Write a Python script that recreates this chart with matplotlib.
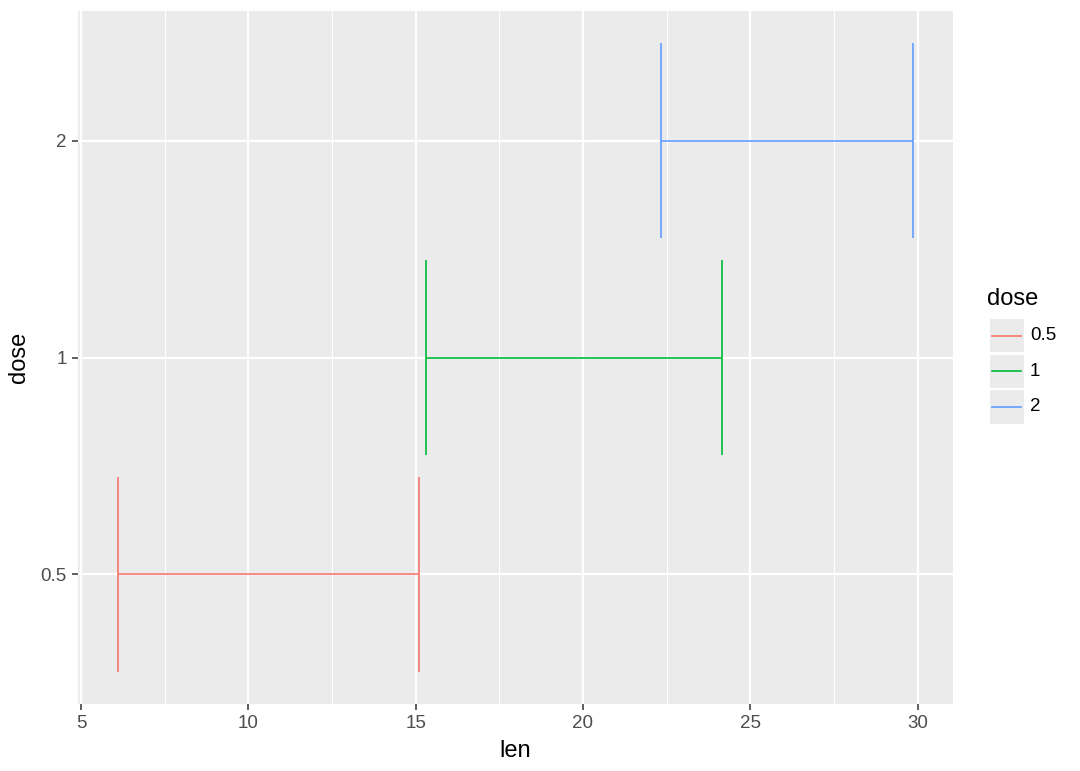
import matplotlib.pyplot as plt
from matplotlib.lines import Line2D
from matplotlib.patches import Rectangle

plt.rcParams['font.family'] = ['Liberation Sans', 'DejaVu Sans']

# ToothGrowth: mean +/- sd of len per dose
doses = ['0.5', '1', '2']
xmin = [6.10, 15.32, 22.33]
xmax = [15.11, 24.15, 29.87]
colors = ['#F8766D', '#00BA38', '#619CFF']

W, H = 1080, 771
fig = plt.figure(figsize=(W / 100, H / 100), dpi=100)
ax = fig.add_axes([78 / W, (H - 704) / H, (953 - 78) / W, (704 - 11) / H])
ax.set_facecolor('#EBEBEB')

ypos = list(range(1, len(doses) + 1))
for y, lo, hi, c in zip(ypos, xmin, xmax, colors):
    ax.plot([lo, hi], [y, y], color=c, lw=1.2, solid_capstyle='butt', zorder=3)
    ax.vlines([lo, hi], y - 0.45, y + 0.45, color=c, lw=1.2, zorder=3)

span = max(xmax) - min(xmin)
ax.set_xlim(min(xmin) - 0.05 * span, max(xmax) + 0.05 * span)
ax.set_ylim(0.4, len(doses) + 0.6)

ax.set_xticks([5, 10, 15, 20, 25, 30])
ax.set_xticks([7.5, 12.5, 17.5, 22.5, 27.5], minor=True)
ax.set_yticks(ypos)
ax.set_yticklabels(doses)

ax.grid(which='major', color='white', lw=1.6)
ax.grid(which='minor', axis='x', color='white', lw=0.8)
ax.set_axisbelow(True)
for s in ax.spines.values():
    s.set_visible(False)
ax.tick_params(which='major', length=4, width=1.1, color='#333333',
               labelcolor='#4D4D4D', labelsize=13.5, pad=4)
ax.tick_params(which='minor', length=0)

ax.set_xlabel('len', fontsize=17, labelpad=6)
ax.set_ylabel('dose', fontsize=17, labelpad=8)

# legend
fig.text(987 / W, 1 - 299 / H, 'dose', fontsize=17, va='center', ha='left')
key_top = 318
key_h = 35.5
for i, (lab, c) in enumerate(zip(doses, colors)):
    y0 = key_top + i * key_h
    fig.patches.append(Rectangle((989 / W, 1 - (y0 + key_h - 1) / H), 35 / W, (key_h - 1) / H,
                                 transform=fig.transFigure, facecolor='#EBEBEB',
                                 edgecolor='white', lw=0.8))
    yc = 1 - (y0 + key_h / 2) / H
    fig.lines.append(Line2D([992 / W, 1021 / W], [yc, yc], transform=fig.transFigure,
                            color=c, lw=1.2))
    fig.text(1030 / W, yc, lab, fontsize=13.5, va='center', ha='left')

plt.savefig('out.png', dpi=100)
